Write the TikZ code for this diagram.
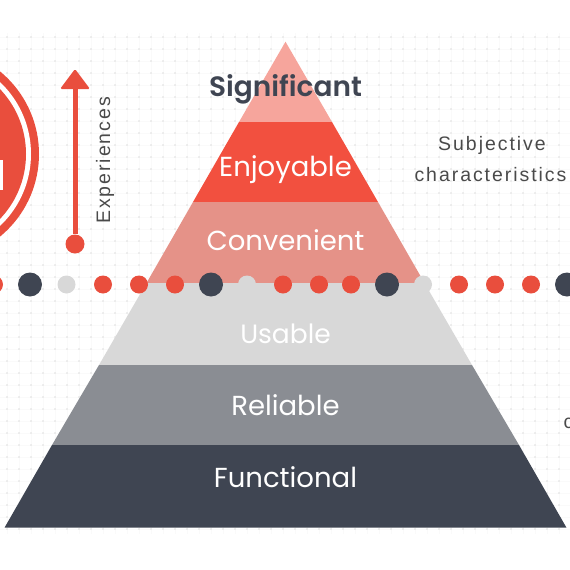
\documentclass[tikz,border=0pt]{standalone}
\usepackage{fontspec}
\newfontfamily\pop{Poppins}
\newfontfamily\popb{Poppins}[BoldFont={Poppins SemiBold}]
\newfontfamily\body{Liberation Sans}[LetterSpace=10]
\definecolor{cred}{HTML}{E94E3D}
\definecolor{cdark}{HTML}{3F4552}
\definecolor{cgray}{HTML}{D8D8D8}
\definecolor{ctop}{HTML}{F6A59C}
\definecolor{cenj}{HTML}{F2503F}
\definecolor{ccon}{HTML}{E59288}
\definecolor{crel}{HTML}{8A8D93}
\definecolor{ctxt}{HTML}{4A4A4A}
\tikzset{
  x=1pt,y=-1pt,
  band/.style={inner sep=0pt,font=\pop\fontsize{27.5}{27.5}\selectfont,text=white},
  side/.style={inner sep=0pt,text=ctxt,font=\body\fontsize{19.5}{19.5}\selectfont},
  reddot/.style={fill=cred,draw=none,circle},
}
\begin{document}
\begin{tikzpicture}
\useasboundingbox (0,0) rectangle (570,570);
\begin{scope}
\clip (0,0) rectangle (570,570);
% background grid
\foreach \y in {37,49,...,530}{\draw[black!2,line width=.4pt] (0,\y) -- (570,\y);}
\foreach \x in {7,19,...,570}{\draw[black!2,line width=.4pt] (\x,33) -- (\x,534);}
\foreach \y in {37,49,...,530}{\foreach \x in {7,19,...,570}{
  \fill[black!13] (\x,\y) circle (.9pt);}}
% target circle
\fill[cred] (-68,154) circle (107);
\fill[white] (-68,154) circle (99);
\fill[cred] (-68,154) circle (94);
\fill[white] (-10,160) rectangle (3.3,190);
% arrow
\coordinate (tip) at (75,88);
\fill[cred,rounded corners=1.5pt] (75,69) -- (90,89) -- (60,89) -- cycle;
\node[reddot,minimum size=19pt,inner sep=0pt] (base) at (75,244) {};
\draw[cred,line width=5pt] (base) -- (tip);
\node[side,rotate=90] (exp) at (105,160.5) {Experiences};
% pyramid
\fill[ctop] (285.5,41.7) -- (332,122) -- (239,122) -- cycle;
\fill[cenj] (239,122) -- (332,122) -- (378,202) -- (193,202) -- cycle;
\fill[ccon] (193,202) -- (378,202) -- (424.5,283) -- (146.5,283) -- cycle;
\fill[cgray] (146.5,283) -- (424.5,283) -- (472,365) -- (99,365) -- cycle;
\fill[crel] (99,365) -- (472,365) -- (519,445) -- (52,445) -- cycle;
\fill[cdark] (52,445) -- (519,445) -- (566.5,527.7) -- (4.5,527.7) -- cycle;
\node[inner sep=0pt,text=cdark,font=\popb\bfseries\fontsize{28}{28}\selectfont] (sig) at (285.5,89) {Significant};
\node[band] (enj) at (285.5,170) {Enjoyable};
\node[band] (con) at (285.5,240) {Convenient};
\node[band,font=\pop\fontsize{26.5}{26.5}\selectfont] (usa) at (285.5,334) {Usable};
\node[band] (rel) at (285.5,405) {Reliable};
\node[band] (fun) at (285.5,477) {Functional};
% side text
\node[side] (sub1) at (492,145) {Subjective};
\node[side] (sub2) at (490.5,175) {characteristics};
\node[side,anchor=west] (obj) at (563.5,423) {c};
% dots
\foreach \x in {-6,103,139,175,283,319,351,459,495,531}{
  \fill[cred] (\x,284.5) circle (9);}
\foreach \x in {30,211,387,567}{\fill[cdark] (\x,284.5) circle (12);}
\foreach \x in {66.5,247,423}{\fill[cgray] (\x,284.5) circle (9);}
\end{scope}
\end{tikzpicture}
\end{document}
